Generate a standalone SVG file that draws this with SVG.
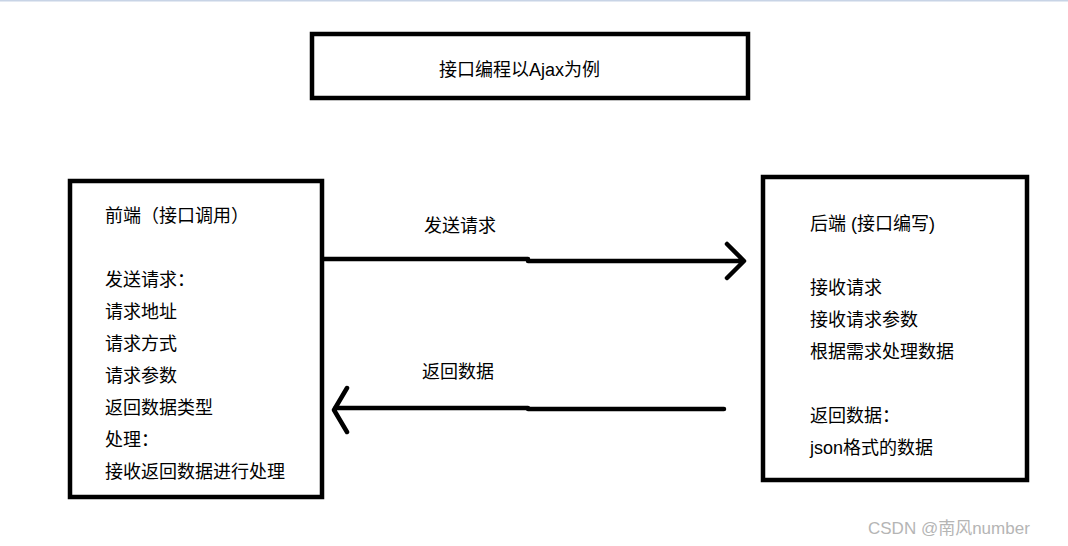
<svg xmlns="http://www.w3.org/2000/svg" width="1068" height="546" viewBox="0 0 1068 546">
<style>
.b{fill:#fff;stroke:#000;stroke-width:4.5}
.t{font-family:"Liberation Sans","Noto Sans CJK SC",sans-serif;font-size:18px;fill:#000}
.c{fill:none;stroke:#000;stroke-width:4.5;stroke-linecap:round;stroke-linejoin:round}
</style>
<rect width="1068" height="546" fill="#fff"/>
<rect x="0" y="0" width="1068" height="1.5" fill="#c8d4e6"/>
<g id="title"><rect class="b" x="312" y="34" width="436" height="64"/><text class="t" x="439" y="76">接口编程以Ajax为例</text></g>
<g id="frontend"><rect class="b" x="70" y="181" width="252" height="316"/>
<text class="t" x="105" y="222">前端（接口调用）</text>
<text class="t" x="105" y="286">发送请求：</text>
<text class="t" x="105" y="318">请求地址</text>
<text class="t" x="105" y="350">请求方式</text>
<text class="t" x="105" y="382">请求参数</text>
<text class="t" x="105" y="414">返回数据类型</text>
<text class="t" x="105" y="446">处理：</text>
<text class="t" x="105" y="478">接收返回数据进行处理</text></g>
<g id="backend"><rect class="b" x="763" y="177" width="264" height="303"/>
<text class="t" x="810" y="230">后端 (接口编写)</text>
<text class="t" x="810" y="294">接收请求</text>
<text class="t" x="810" y="326">接收请求参数</text>
<text class="t" x="810" y="358">根据需求处理数据</text>
<text class="t" x="810" y="422">返回数据：</text>
<text class="t" x="810" y="454">json格式的数据</text></g>
<g id="connectors">
<path class="c" d="M324 259H528M528 261H743M727 244L744 261L727 278"/>
<path class="c" d="M724 409H528M528 408H335M347 388L334 410L347 432"/>
<text class="t" x="424" y="232">发送请求</text>
<text class="t" x="422" y="378">返回数据</text>
</g>
<text x="868" y="534" style="font-family:'Liberation Sans','Noto Sans CJK SC',sans-serif;font-size:17px;fill:#b5b5b5">CSDN @南风number</text>
</svg>
